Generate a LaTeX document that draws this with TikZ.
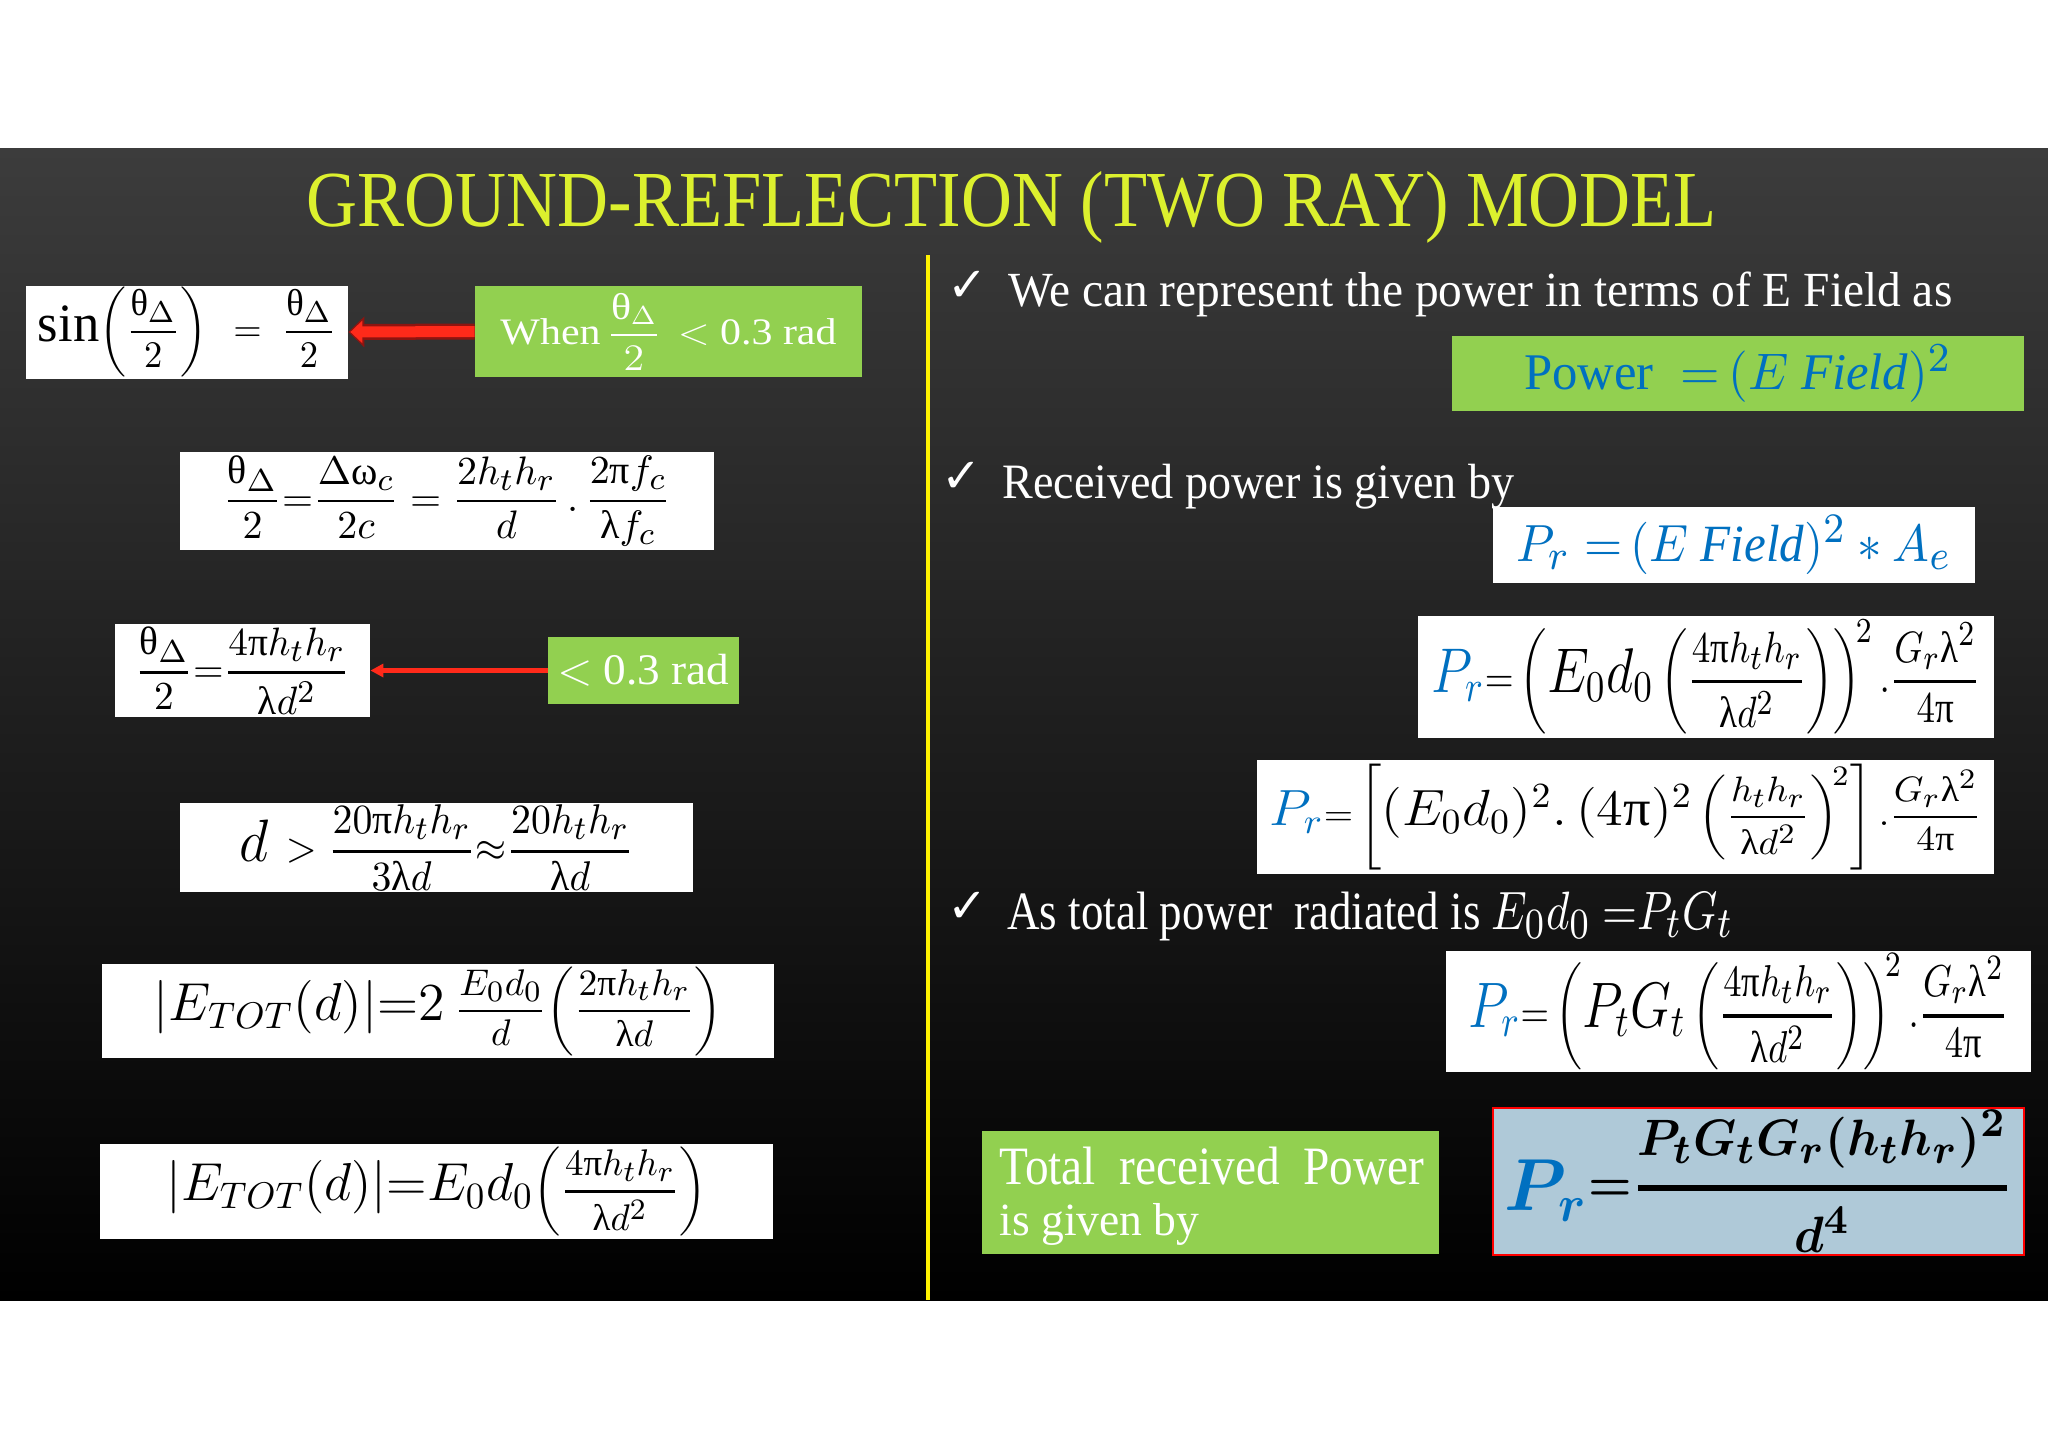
\documentclass[tikz,border=0pt]{standalone}
\usepackage{amsmath}
\usepackage{graphicx}
\usepackage{fontspec}
\setmainfont{Liberation Serif}
\newfontfamily\symfont{DejaVu Sans}
\usetikzlibrary{arrows.meta}
\DeclareMathSizes{10}{10}{8}{6}

\definecolor{slidetop}{HTML}{3C3C3C}
\definecolor{titleyellow}{HTML}{DCF02E}
\definecolor{boxgreen}{HTML}{92D050}
\definecolor{pblue}{HTML}{0070C0}
\definecolor{finalblue}{HTML}{AFC9D8}
\definecolor{arrowred}{HTML}{FF2A1A}
\definecolor{arrowdark}{HTML}{8E1410}

% squeeze a text to the size it has on the slide (sizes in picture units)
\newcommand{\fitto}[3]{\resizebox*{\dimexpr#1pt/2\relax}{\dimexpr#2pt/2\relax}{#3}}
\newcommand{\dfr}[2]{\genfrac{}{}{.7pt}{0}{#1}{#2}}
\newcommand{\ttheta}{\text{θ}}
\newcommand{\tpi}{\text{π}}
\newcommand{\tlam}{\text{λ}}
\newcommand{\tom}{\text{ω}}
\newcommand{\thalf}{\dfr{\ttheta_{\Delta}}{2}}
\newcommand{\pr}{\text{\Large\textcolor{pblue}{$P_r$}}}
\newcommand{\eqs}{\mathord{=}}

\tikzset{
    eqnbox/.style={fill=white, text=black, inner sep=0pt},
    greenbox/.style={fill=boxgreen, text=white, inner sep=0pt},
    linetext/.style={text=white, anchor=west, inner sep=0pt},
    tick/.style={text=white, inner sep=0pt, font=\symfont\fontsize{24}{24}\selectfont}
}

\begin{document}
\begin{tikzpicture}[x=.5pt, y=-.5pt]
                        \useasboundingbox (0, 0) rectangle (2048, 1448);
                        \fill [white] (0, 0) rectangle (2048, 1448);
                        \shade [top color=slidetop, bottom color=black] (0, 148) rectangle (2048, 1300);

                        \node [text=titleyellow, inner sep=0pt] (title) at (1012, 207) {\fitto{1410}{72}{GROUND-REFLECTION (TWO RAY) MODEL}};

                        \coordinate (ruletop) at (928, 255);
                        \coordinate (rulebottom) at (928, 1300);
                        \draw [yellow, line width=2pt] (ruletop) -- (rulebottom);

                        % left column
                        \node [eqnbox, minimum width=161pt, minimum height=46.5pt] (sinbox) at (187, 332) {\fitto{298}{90}{$\text{\Large sin}\!\left(\thalf\right)\;\;\eqs\;\;\thalf$}};
                        \node [greenbox, minimum width=193.5pt, minimum height=45.5pt] (whenbox) at (668.5, 331.5) {\fitto{336}{77}{\Large When\,$\dfr{\ttheta_{\Delta}}{2}$\, $<$ 0.3 rad}};
                        \node [eqnbox, minimum width=267pt, minimum height=49pt] (ratiobox) at (447, 501) {\fitto{448}{91}{$\thalf\eqs\dfr{\Delta\tom_c}{2c}\;\eqs\;\dfr{2h_th_r}{d}\,.\,\dfr{2\tpi f_c}{\tlam f_c}$}};
                        \node [eqnbox, minimum width=127.5pt, minimum height=46.5pt] (limitbox) at (242.5, 670.5) {\fitto{215}{87}{$\thalf\eqs\dfr{4\tpi h_th_r}{\tlam d^2}$}};
                        \node [greenbox, minimum width=95.5pt, minimum height=33.5pt] (radbox) at (643.5, 670.5) {\fitto{172}{32}{$<$ 0.3 rad}};
                        \node [eqnbox, minimum width=256.5pt, minimum height=44.5pt] (distbox) at (436.5, 847.5) {\fitto{395}{86}{$\text{\Large$d$}\,>\dfr{20\tpi h_th_r}{3\tlam d}\mathord{\approx}\dfr{20h_th_r}{\tlam d}$}};
                        \node [eqnbox, minimum width=336pt, minimum height=47pt] (etotbox) at (438, 1011) {\fitto{568}{89}{$\text{\Large$|E_{TOT}(d)|\eqs 2$}\;\dfr{E_0d_0}{d}\!\left(\dfr{2\tpi h_th_r}{\tlam d}\right)$}};
                        \node [eqnbox, minimum width=336.5pt, minimum height=47.5pt] (efinalbox) at (436.5, 1191.5) {\fitto{540}{89}{$\text{\Large$|E_{TOT}(d)|\eqs E_0d_0$}\!\left(\dfr{4\tpi h_th_r}{\tlam d^2}\right)$}};

                        \draw [arrowdark, line width=8pt, -{Triangle[length=8pt, width=15pt]}] (whenbox.west) -- (sinbox.east);
                        \draw [arrowred, line width=5.5pt, -{Triangle[length=6pt, width=11pt]}, shorten >=1pt] (whenbox.west) -- (sinbox.east);
                        \draw [arrowred, line width=2.2pt, -{Triangle[length=6.5pt, width=6.5pt]}] (radbox.west) -- (limitbox.east);

                        % right column
                        \node [tick] (tick1) at (968, 286) {✓};
                        \node [linetext] (line1) at (1008, 294) {\fitto{944}{45}{We can represent the power in terms of E Field as}};
                        \node [greenbox, text=pblue, minimum width=286pt, minimum height=37.5pt] (powerbox) at (1738, 373.5) {\fitto{428}{58}{Power\; $\eqs\,(E\ \mathit{Field})^2$}};

                        \node [tick] (tick2) at (962, 477) {✓};
                        \node [linetext] (line2) at (1002, 487) {\fitto{512}{45}{Received power is given by}};
                        \node [eqnbox, text=pblue, minimum width=241pt, minimum height=38pt] (prbox) at (1734, 545) {\fitto{435}{59}{$P_r\;\eqs\,(E\ \mathit{Field})^2*A_e$}};
                        \node [eqnbox, minimum width=288pt, minimum height=61pt] (prtwobox) at (1706, 677) {\fitto{549}{114}{$\pr\eqs\left(\text{\Large$E_0d_0$}\left(\dfr{4\tpi h_th_r}{\tlam d^2}\right)\right)^{\!2}.\dfr{G_r\tlam^2}{4\tpi}$}};
                        \node [eqnbox, minimum width=368.5pt, minimum height=57pt] (prthreebox) at (1625.5, 817) {\fitto{712}{106}{$\pr\eqs\left[\text{\Large$(E_0d_0)^2.\,(4\tpi)^2$}\left(\dfr{h_th_r}{\tlam d^2}\right)^{\!2}\right].\dfr{G_r\tlam^2}{4\tpi}$}};

                        \node [tick] (tick3) at (968, 907) {✓};
                        \node [linetext] (line3) at (1007, 916) {\fitto{726}{49}{As total power\ \ radiated is $E_0d_0$ $\eqs P_tG_t$}};
                        \node [eqnbox, minimum width=292.5pt, minimum height=60.5pt] (prfourbox) at (1738, 1011.5) {\fitto{540}{116}{$\pr\eqs\left(\text{\Large$P_tG_t$}\left(\dfr{4\tpi h_th_r}{\tlam d^2}\right)\right)^{\!2}.\dfr{G_r\tlam^2}{4\tpi}$}};

                        \node [greenbox, minimum width=228.5pt, minimum height=61.5pt] (totalbox) at (1210.5, 1192.5) {};
                        \node [linetext] (total1) at (999, 1166) {\fitto{425}{38}{Total\ \ received\ \ Power}};
                        \node [linetext] (total2) at (999, 1224) {\fitto{200}{42}{is given by}};
                        \node [draw=red, line width=1pt, fill=finalblue, text=black, inner sep=0pt, minimum width=265.5pt, minimum height=73.5pt] (finalbox) at (1758.5, 1181.5) {\fitto{508}{142}{$\raisebox{-2pt}{\Large$\textcolor{pblue}{\boldsymbol{P}_{\!\boldsymbol{r}}}$}\boldsymbol{\eqs}\genfrac{}{}{1.1pt}{0}{\boldsymbol{P_tG_tG_r(h_th_r)^2}}{\boldsymbol{d^4}}$}};
\end{tikzpicture}
\end{document}
